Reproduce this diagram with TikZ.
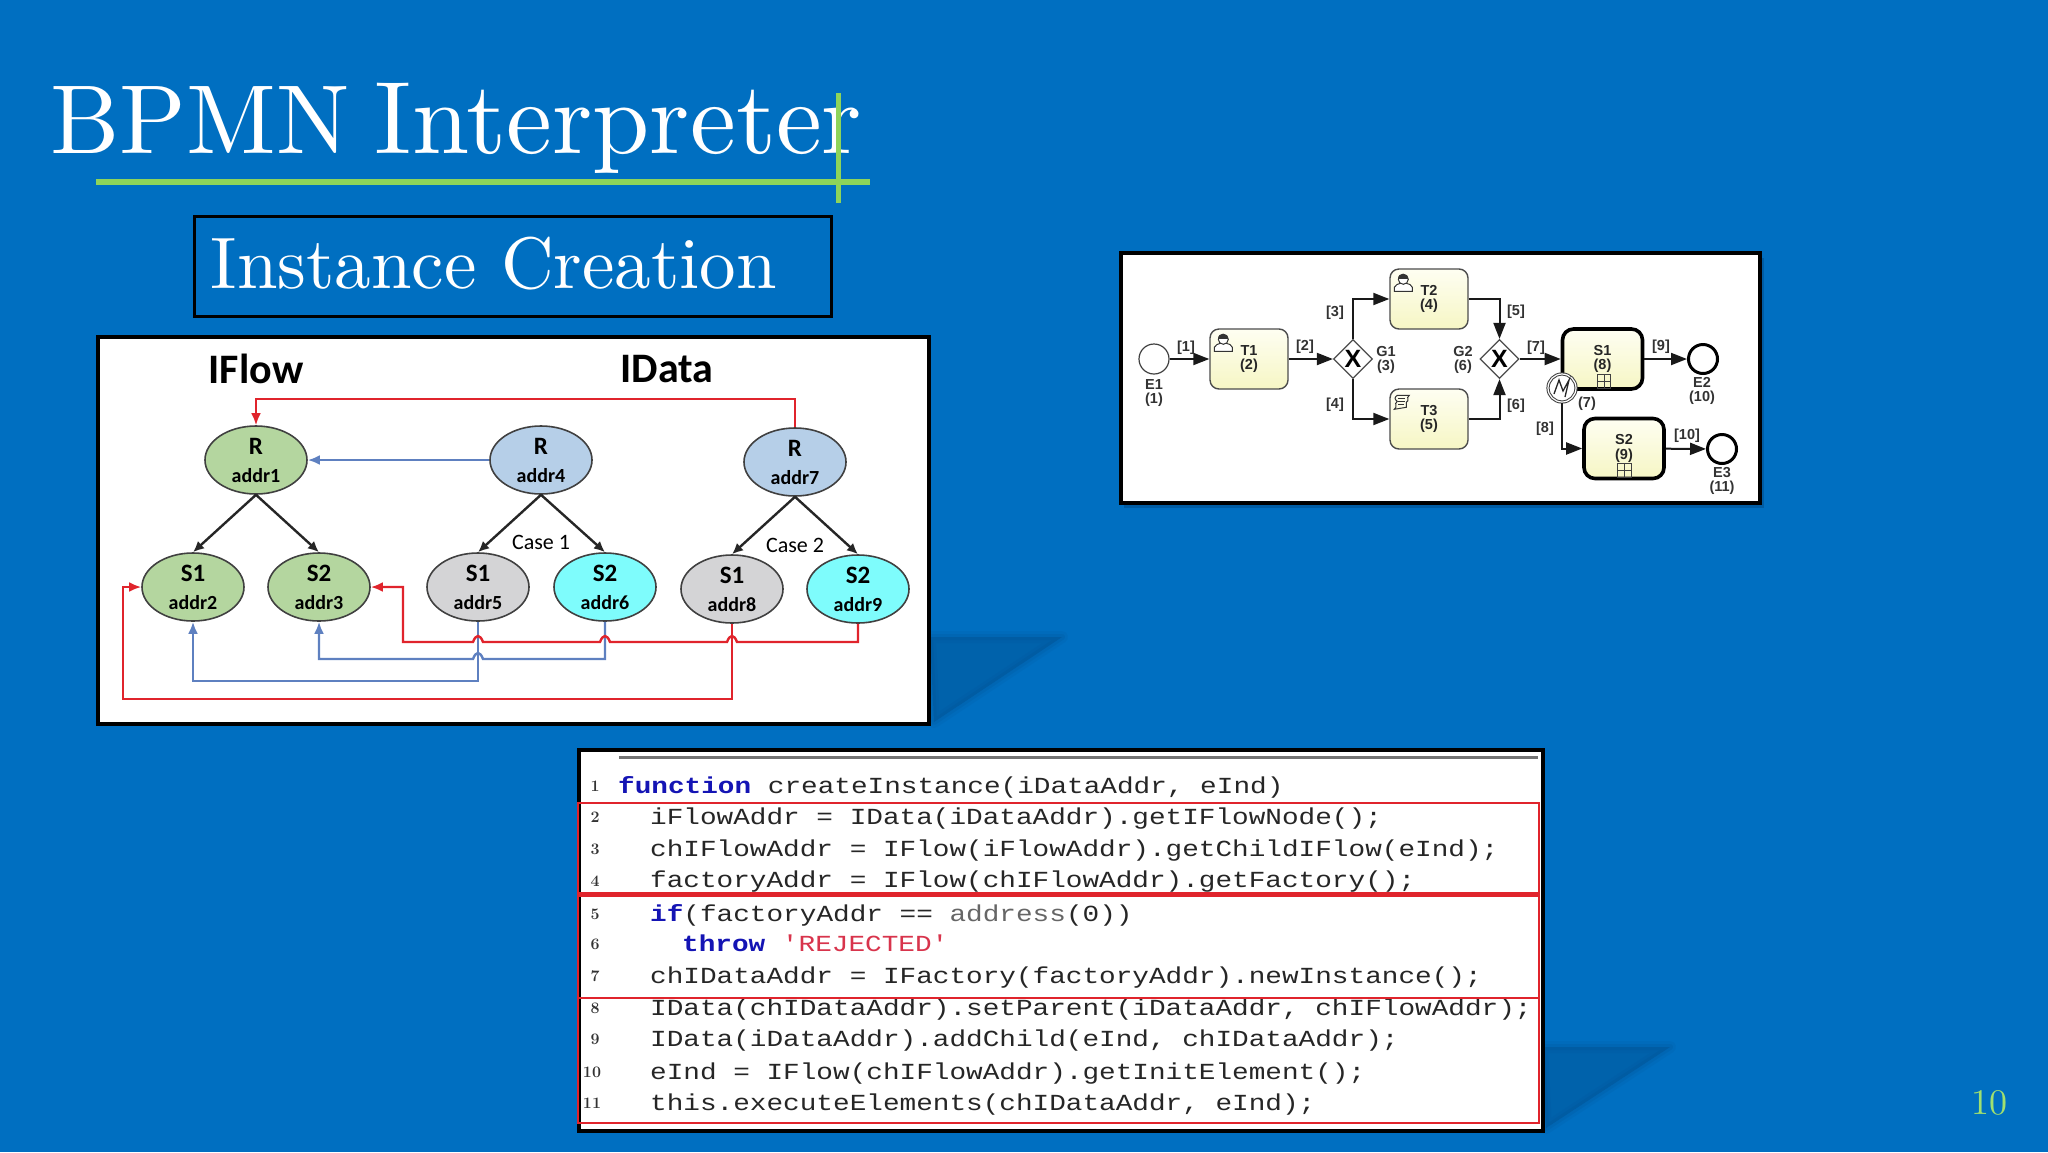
\documentclass[tikz,border=0pt]{standalone}
\usepackage{fontspec}
\usetikzlibrary{shapes.geometric,arrows.meta,backgrounds,calc}
\newfontfamily\headfont{lmroman10-regular}[Extension=.otf]
\newfontfamily\calfont{Carlito}
\newfontfamily\bpmnfont{Liberation Sans}
\newfontfamily\codefont[FakeStretch=1.205]{Liberation Mono}
\definecolor{slideblue}{HTML}{006FC1}
\definecolor{shadowblue}{HTML}{00477F}
\definecolor{titlegreen}{HTML}{8ED45A}
\definecolor{pagegreen}{HTML}{A0E070}
\definecolor{flowgreen}{HTML}{B4D69F}
\definecolor{datablue}{HTML}{B6CFE8}
\definecolor{casegray}{HTML}{D4D4D6}
\definecolor{casecyan}{HTML}{7EFCFC}
\definecolor{linkred}{HTML}{E0242C}
\definecolor{linkblue}{HTML}{5E80C0}
\definecolor{keyblue}{HTML}{1414B4}
\definecolor{codegray}{HTML}{262626}
\definecolor{rejectred}{HTML}{D8344C}
\definecolor{taskpale}{HTML}{FEFEF2}
\definecolor{taskyellow}{HTML}{F6F6C4}
\tikzset{
  panel/.style={draw=black,fill=white,line width=4pt,anchor=north west,inner sep=0pt},
  addrnode/.style={ellipse,draw=#1,line width=1.6pt,minimum width=102pt,minimum height=68pt,inner sep=0pt,align=center,text=black,font=\calfont\fontsize{20}{28}\selectfont},
  treelink/.style={line width=2.4pt,black!85,-{Latex[length=11pt,width=10pt]}},
  redlink/.style={line width=2.4pt,linkred,-{Latex[length=12pt,width=10pt]}},
  bluelink/.style={line width=2.4pt,linkblue,-{Latex[length=12pt,width=10pt]}},
  casetag/.style={font=\calfont\fontsize{22}{24}\selectfont,inner sep=0pt},
  headtag/.style={font=\calfont\bfseries\fontsize{42}{44}\selectfont,inner sep=0pt},
  taskbox/.style={draw=black!70,line width=1.4pt,rounded corners=9pt,top color=taskpale,bottom color=taskyellow,minimum width=78pt,minimum height=60pt,inner sep=0pt,align=center,font=\bpmnfont\bfseries\fontsize{14.5}{14.5}\selectfont,text=black!85},
  subbox/.style={taskbox,draw=black,line width=3.6pt,rounded corners=11pt,minimum width=80pt},
  eventnode/.style={circle,draw=black!75,fill=white,line width=1.2pt,minimum size=30pt,inner sep=0pt},
  endnode/.style={eventnode,draw=black,line width=3pt,minimum size=29pt},
  gatenode/.style={diamond,aspect=1,draw=black!70,fill=white,line width=1.2pt,minimum size=39pt,inner sep=0pt,font=\bpmnfont\bfseries\fontsize{25}{25}\selectfont},
  flowarrow/.style={line width=2pt,black!90,-{Triangle[length=16pt,width=12pt]}},
  flowtag/.style={font=\bpmnfont\bfseries\fontsize{14.5}{14.5}\selectfont,text=black!80,inner sep=0pt,align=center},
  plusbox/.style={draw=black!75,line width=1pt,minimum size=13.5pt,inner sep=0pt},
  codeline/.style={anchor=mid west,inner sep=0pt,text=codegray,font=\codefont\fontsize{23}{25}\selectfont},
  lineno/.style={inner sep=0pt,text=black!80,font=\bfseries\fontsize{16}{18}\selectfont},
  redframe/.style={draw=linkred,line width=2.4pt}
}
\newcommand{\castshadow}[3]{
  \fill[shadowblue,opacity=.14,line join=round] #1 -- #2 -- #3 -- cycle;
  \draw[shadowblue,opacity=.08,fill=shadowblue,line width=12pt,line join=round] #1 -- #2 -- #3 -- cycle;
  \draw[shadowblue,opacity=.12,fill=shadowblue,line width=6pt,line join=round] #1 -- #2 -- #3 -- cycle;
}
\newcommand{\hump}[1]{-- ([xshift=5pt]#1) .. controls ([xshift=2pt,yshift=8pt]#1) and ([xshift=-2pt,yshift=8pt]#1) .. ([xshift=-5pt]#1)}
\newcommand{\addrtext}[2]{{\bfseries\fontsize{25}{28}\selectfont #1}\\{\bfseries #2}}
\newcommand{\usericon}[1]{
  \begin{scope}[shift={(#1)},line width=1pt,black!80]
    \draw[fill=white] (5,23) -- (5,19) .. controls (6,16) and (9,16) .. (11,15) -- (17,15) .. controls (20,16) and (22,16) .. (23,19) -- (23,23) -- cycle;
    \draw[fill=white] (14,11) circle (5pt);
    \fill (9,11) .. controls (9,4) and (19,4) .. (19,11) -- cycle;
  \end{scope}
}
\begin{document}
\begin{tikzpicture}[x=1pt,y=-1pt]
  \useasboundingbox (0,0) rectangle (2048,1152);
  \fill[slideblue] (0,0) rectangle (2048,1152);
  % title
  \node[anchor=base west,inner sep=0pt,text=white,font=\headfont\fontsize{103}{103}\selectfont] (title) at (50,153) {{\fontsize{98}{98}\selectfont BPMN}\hspace{-9pt} Interpreter};
  \draw[titlegreen,line width=6pt] (96,182) -- (870,182);
  \draw[titlegreen,line width=5pt] (838,93) -- (838,203);
  \node[draw=black,line width=3pt,anchor=north west,minimum width=637pt,minimum height=100pt,inner sep=0pt] (subbox) at (193,215) {};
  \node[anchor=base west,inner sep=0pt,text=white,font=\headfont\fontsize{73}{73}\selectfont] (subtitle) at (210.5,288) {Instance Creation};
  \node[inner sep=0pt,text=pagegreen,font=\headfont\fontsize{36}{36}\selectfont] (pageno) at (1989,1103) {10};
  \castshadow{(930,637)}{(1062,637)}{(934,722)}
  \castshadow{(1542,1047)}{(1670,1047)}{(1546,1128)}
  % tree panel
  \node[panel,minimum width=831pt,minimum height=387pt] (treepanel) at (95.5,334.5) {};
  \node[headtag] (iflow) at (256,369) {IFlow};
  \node[headtag] (idata) at (667,369) {IData};
  \node[addrnode=black!75,fill=flowgreen] (addr1) at (256,460) {\addrtext{R}{addr1}};
  \node[addrnode=black!75,fill=datablue] (addr4) at (541,460) {\addrtext{R}{addr4}};
  \node[addrnode=black!75,fill=datablue] (addr7) at (795,462) {\addrtext{R}{addr7}};
  \node[addrnode=black!75,fill=flowgreen] (addr2) at (193,587) {\addrtext{S1}{addr2}};
  \node[addrnode=black!75,fill=flowgreen] (addr3) at (319,587) {\addrtext{S2}{addr3}};
  \node[addrnode=black!75,fill=casegray] (addr5) at (478,587) {\addrtext{S1}{addr5}};
  \node[addrnode=black!75,fill=casecyan] (addr6) at (605,587) {\addrtext{S2}{addr6}};
  \node[addrnode=black!75,fill=casegray] (addr8) at (732,589) {\addrtext{S1}{addr8}};
  \node[addrnode=black!75,fill=casecyan] (addr9) at (858,589) {\addrtext{S2}{addr9}};
  \node[casetag] (caseone) at (541,542) {Case 1};
  \node[casetag] (casetwo) at (795,545) {Case 2};
  \draw[treelink] (addr1.south) -- (addr2.north);
  \draw[treelink] (addr1.south) -- (addr3.north);
  \draw[treelink] (addr4.south) -- (addr5.north);
  \draw[treelink] (addr4.south) -- (addr6.north);
  \draw[treelink] (addr7.south) -- (addr8.north);
  \draw[treelink] (addr7.south) -- (addr9.north);
  \coordinate (redtop) at (0,399);
  \coordinate (redrun) at (0,642);
  \coordinate (bluerun) at (0,659);
  \coordinate (bluelow) at (0,681);
  \coordinate (redlow) at (0,699);
  \coordinate (cross5) at (addr5.south |- redrun);
  \coordinate (cross6) at (addr6.south |- redrun);
  \coordinate (cross8) at (addr8.south |- redrun);
  \coordinate (hop5) at (addr5.south |- bluerun);
  \draw[bluelink] (addr4.west) -- (addr1.east);
  \draw[bluelink] (addr5.south) -- (addr5.south |- bluelow) -| (addr2.south);
  \draw[bluelink] (addr6.south) -- (addr6.south |- bluerun) \hump{hop5} -| (addr3.south);
  \draw[redlink] (addr7.north) -- (addr7.north |- redtop) -| (addr1.north);
  \draw[redlink] (addr9.south) -- (addr9.south |- redrun) \hump{cross8} \hump{cross6} \hump{cross5} -- (403,642) |- (addr3.east);
  \draw[redlink] (addr8.south) -- (addr8.south |- redlow) -- (123,699) |- (addr2.west);
  % bpmn panel
  \fill[shadowblue,opacity=.45] (1124,258) rectangle (1764,508);
  \node[panel,minimum width=639pt,minimum height=250pt] (bpmnpanel) at (1118.5,251) {};
  \node[eventnode] (E1) at (1154,359) {};
  \node[taskbox] (T1) at (1249,359) {T1\\(2)};
  \node[gatenode] (G1) at (1353,359) {X};
  \node[taskbox] (T2) at (1429,299) {T2\\(4)};
  \node[taskbox] (T3) at (1429,419) {T3\\(5)};
  \node[gatenode] (G2) at (1499.5,359) {X};
  \node[subbox] (S1) at (1602.5,359) {S1\\(8)};
  \node[subbox] (S2) at (1624,448.5) {S2\\(9)};
  \node[endnode] (E2) at (1703,359) {};
  \node[endnode] (E3) at (1722,449) {};
  \draw[flowarrow] (E1) -- (T1);
  \draw[flowarrow] (T1) -- (G1);
  \draw[flowarrow] (G1.north) |- (T2.west);
  \draw[flowarrow] (G1.south) |- (T3.west);
  \draw[flowarrow] (T2.east) -| (G2.north);
  \draw[flowarrow] (T3.east) -| (G2.south);
  \draw[flowarrow] (G2) -- (S1);
  \draw[flowarrow] (S1) -- (E2);
  \draw[flowarrow] (S2) -- (E3);
  \node[eventnode,draw=black!75,double,double distance=1.2pt,line width=1pt,minimum size=28pt] (B1) at (1562,388) {};
  \draw[flowarrow] (B1.south) |- (S2.west);
  \draw[black!85,line width=1.3pt,line join=miter] ([shift={(-8pt,-6pt)}]B1.center) -- ([shift={(-3pt,8pt)}]B1.center) -- ([shift={(1pt,-3pt)}]B1.center) -- ([shift={(7pt,8pt)}]B1.center) -- ([shift={(3pt,-9pt)}]B1.center);
  \node[plusbox] (S1plus) at (1604,381.5) {};
  \draw[black!75,line width=1pt] (S1plus.north) -- (S1plus.south) (S1plus.west) -- (S1plus.east);
  \node[plusbox] (S2plus) at (1624.5,470.5) {};
  \draw[black!75,line width=1pt] (S2plus.north) -- (S2plus.south) (S2plus.west) -- (S2plus.east);
  \usericon{T1.north west}
  \usericon{T2.north west}
  \begin{scope}[shift={(T3.north west)},black!80,line width=1pt]
    \draw (8,7) -- (20,7) .. controls (16,10) and (21,12) .. (17,14) -- (17,19) -- (5,21) .. controls (9,18) and (4,16) .. (8,13) .. controls (5,11) and (5,9) .. (8,7);
    \draw (9,10) -- (16,10) (9,13) -- (16,13) (9,16) -- (15,16);
  \end{scope}
  \node[flowtag] (tag1) at (1186,348) {[1]};
  \node[flowtag] (tag2) at (1305,347) {[2]};
  \node[flowtag] (tag3) at (1335,313) {[3]};
  \node[flowtag] (tag4) at (1335,405) {[4]};
  \node[flowtag] (tag5) at (1516,312) {[5]};
  \node[flowtag] (tag6) at (1516,406) {[6]};
  \node[flowtag] (tag7) at (1536,348) {[7]};
  \node[flowtag] (tag8) at (1545,429) {[8]};
  \node[flowtag] (tag9) at (1661,347) {[9]};
  \node[flowtag] (tag10) at (1687,436) {[10]};
  \node[flowtag] (bnum) at (1587,404) {(7)};
  \node[flowtag] (nameE1) at (1154,393) {E1\\(1)};
  \node[flowtag] (nameE2) at (1702,391) {E2\\(10)};
  \node[flowtag] (nameE3) at (1722,481) {E3\\(11)};
  \node[flowtag] (nameG1) at (1386,360) {G1\\(3)};
  \node[flowtag] (nameG2) at (1463,360) {G2\\(6)};
  % code panel
  \node[panel,minimum width=964pt,minimum height=381pt] (codepanel) at (576.5,747.5) {};
  \draw[black!55,line width=3pt] (619,757) -- (1538,757);
  \node[lineno] (no1) at (595,786) {1};
  \node[lineno] (no2) at (595,817) {2};
  \node[lineno] (no3) at (595,849) {3};
  \node[lineno] (no4) at (595,881) {4};
  \node[lineno] (no5) at (595,914) {5};
  \node[lineno] (no6) at (595,944) {6};
  \node[lineno] (no7) at (595,976) {7};
  \node[lineno] (no8) at (595,1008) {8};
  \node[lineno] (no9) at (595,1039) {9};
  \node[lineno] (no10) at (592,1072) {10};
  \node[lineno] (no11) at (592,1103) {11};
  \node[codeline] (code1) at (618,791) {\textcolor{keyblue}{\bfseries function} createInstance(iDataAddr, eInd)};
  \node[codeline] (code2) at (650,822) {iFlowAddr = IData(iDataAddr).getIFlowNode();};
  \node[codeline] (code3) at (650,854) {chIFlowAddr = IFlow(iFlowAddr).getChildIFlow(eInd);};
  \node[codeline] (code4) at (650,885) {factoryAddr = IFlow(chIFlowAddr).getFactory();};
  \node[codeline] (code5) at (650,919) {\textcolor{keyblue}{\bfseries if}(factoryAddr == \textcolor{black!60}{address}(0))};
  \node[codeline] (code6) at (682,949) {\textcolor{keyblue}{\bfseries throw} \textcolor{rejectred}{'REJECTED'}};
  \node[codeline] (code7) at (650,981) {chIDataAddr = IFactory(factoryAddr).newInstance();};
  \node[codeline] (code8) at (650,1013) {IData(chIDataAddr).setParent(iDataAddr, chIFlowAddr);};
  \node[codeline] (code9) at (650,1044) {IData(iDataAddr).addChild(eInd, chIDataAddr);};
  \node[codeline] (code10) at (650,1077) {eInd = IFlow(chIFlowAddr).getInitElement();};
  \node[codeline] (code11) at (650,1108) {this.executeElements(chIDataAddr, eInd);};
  \draw[redframe] (578,803) rectangle (1539,893.5);
  \draw[redframe] (578,895.5) rectangle (1539,998);
  \draw[redframe] (578,998) rectangle (1539,1123);
\end{tikzpicture}
\end{document}
